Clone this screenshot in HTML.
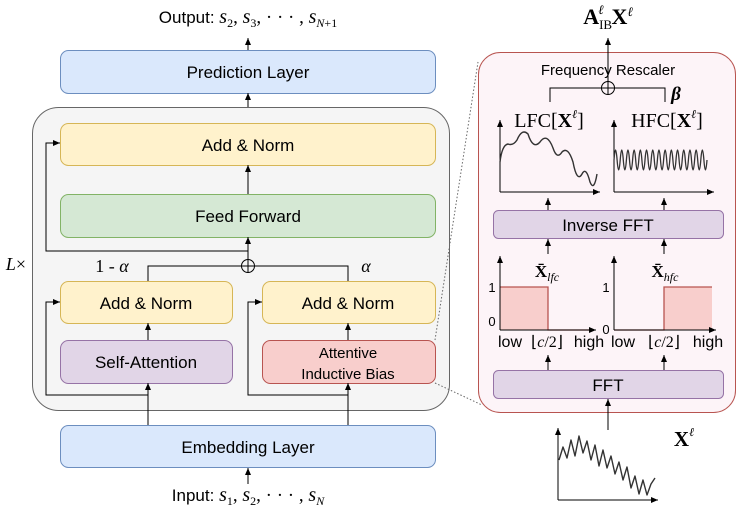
<!DOCTYPE html>
<html><head><meta charset="utf-8"><style>
body{margin:0;background:#fff}
svg text{font-family:"Liberation Sans",sans-serif}
.m{font-family:"Liberation Serif",serif}
</style></head><body>
<svg width="742" height="509" viewBox="0 0 742 509" xmlns="http://www.w3.org/2000/svg">
<defs><marker id="a" markerWidth="8" markerHeight="8" refX="7" refY="4" orient="auto" markerUnits="userSpaceOnUse"><path d="M0,1 L7,4 L0,7 Z" fill="#000"/></marker></defs>
<g font-size="17" text-anchor="middle" fill="#000">
<text x="248" y="23">Output: <tspan class="m" font-style="italic" font-size="20">s</tspan><tspan class="m" font-size="12" dy="4">2</tspan><tspan class="m" dy="-4" font-size="19">, </tspan><tspan class="m" font-style="italic" font-size="20">s</tspan><tspan class="m" font-size="12" dy="4">3</tspan><tspan class="m" dy="-4" font-size="19">, · · · , </tspan><tspan class="m" font-style="italic" font-size="20">s</tspan><tspan class="m" font-size="12" dy="4" font-style="italic">N</tspan><tspan class="m" font-size="12">+1</tspan></text>
<line x1="248" y1="50" x2="248" y2="38" stroke="#000" marker-end="url(#a)"/>
<rect x="60.5" y="50.5" width="375" height="43" rx="8" fill="#dae8fc" stroke="#6c8ebf"/>
<text x="248" y="78">Prediction Layer</text>
<line x1="248" y1="123" x2="248" y2="93" stroke="#000" marker-end="url(#a)"/>
<rect x="32.5" y="107.5" width="417" height="303" rx="26" fill="#f5f5f5" stroke="#666"/>
<rect x="60.5" y="123.5" width="375" height="42" rx="8" fill="#fff2cc" stroke="#d6b656"/>
<text x="248" y="151">Add &amp; Norm</text>
<line x1="248" y1="194" x2="248" y2="165" stroke="#000" marker-end="url(#a)"/>
<rect x="60.5" y="194.5" width="375" height="43" rx="8" fill="#d5e8d4" stroke="#82b366"/>
<text x="248" y="222">Feed Forward</text>
<polyline points="248,260 248,251 46,251 46,143 60,143" fill="none" stroke="#000" marker-end="url(#a)"/>
<line x1="248" y1="251" x2="248" y2="237" stroke="#000" marker-end="url(#a)"/>
<polyline points="148,281 148,266 348,266 348,281" fill="none" stroke="#000"/>
<circle cx="248" cy="266" r="6.5" fill="none" stroke="#000"/>
<line x1="241.5" y1="266" x2="254.5" y2="266" stroke="#000"/><line x1="248" y1="259.5" x2="248" y2="272.5" stroke="#000"/>
<text x="112" y="272" class="m" font-size="18">1 - <tspan font-style="italic">α</tspan></text>
<text x="366" y="272" class="m" font-size="18" font-style="italic">α</text>
<text x="16" y="270" class="m" font-size="18"><tspan font-style="italic">L</tspan>×</text>
<rect x="60.5" y="281.5" width="172" height="42" rx="8" fill="#fff2cc" stroke="#d6b656"/>
<text x="146" y="309">Add &amp; Norm</text>
<rect x="262.5" y="281.5" width="173" height="42" rx="8" fill="#fff2cc" stroke="#d6b656"/>
<text x="348" y="309">Add &amp; Norm</text>
<rect x="60.5" y="340.5" width="172" height="43" rx="8" fill="#e1d5e7" stroke="#9673a6"/>
<text x="146" y="368">Self-Attention</text>
<rect x="262.5" y="340.5" width="173" height="43" rx="8" fill="#f8cecc" stroke="#b85450"/>
<text x="348" y="358" font-size="15">Attentive</text>
<text x="348" y="379" font-size="15">Inductive Bias</text>
<line x1="148" y1="340" x2="148" y2="323" stroke="#000" marker-end="url(#a)"/>
<line x1="348" y1="340" x2="348" y2="323" stroke="#000" marker-end="url(#a)"/>
<line x1="148" y1="425" x2="148" y2="383" stroke="#000" marker-end="url(#a)"/>
<line x1="348" y1="425" x2="348" y2="383" stroke="#000" marker-end="url(#a)"/>
<polyline points="148,395 46,395 46,302 60,302" fill="none" stroke="#000" marker-end="url(#a)"/>
<polyline points="348,395 248,395 248,302 262,302" fill="none" stroke="#000" marker-end="url(#a)"/>
<rect x="60.5" y="425.5" width="375" height="42" rx="8" fill="#dae8fc" stroke="#6c8ebf"/>
<text x="248" y="453">Embedding Layer</text>
<line x1="248" y1="484" x2="248" y2="468" stroke="#000" marker-end="url(#a)"/>
<text x="248" y="501">Input: <tspan class="m" font-style="italic" font-size="20">s</tspan><tspan class="m" font-size="12" dy="4">1</tspan><tspan class="m" dy="-4" font-size="19">, </tspan><tspan class="m" font-style="italic" font-size="20">s</tspan><tspan class="m" font-size="12" dy="4">2</tspan><tspan class="m" dy="-4" font-size="19">, · · · , </tspan><tspan class="m" font-style="italic" font-size="20">s</tspan><tspan class="m" font-size="12" dy="4" font-style="italic">N</tspan></text>
<line x1="435" y1="340" x2="478" y2="62" stroke="#666" stroke-dasharray="1.5,2"/>
<line x1="435" y1="383" x2="482" y2="405" stroke="#666" stroke-dasharray="1.5,2"/>
<rect x="478.5" y="52.5" width="257" height="360" rx="22" fill="#fdf4f8" stroke="#b85450"/>
<text x="608" y="24" class="m" font-size="22" font-weight="bold">A<tspan font-size="13" font-weight="normal" dy="5">IB</tspan><tspan font-size="13" font-weight="normal" font-style="italic" dx="-14" dy="-15">ℓ</tspan><tspan dx="8" dy="10">X</tspan><tspan font-size="13" font-weight="normal" font-style="italic" dy="-8">ℓ</tspan></text>
<text x="608" y="75" font-size="15">Frequency  Rescaler</text>
<line x1="608" y1="88" x2="608" y2="38" stroke="#000" marker-end="url(#a)"/>
<polyline points="550,102 550,88 665,88 665,102" fill="none" stroke="#000"/>
<circle cx="608" cy="88" r="6.5" fill="#fdf4f8" stroke="#000"/>
<line x1="601.5" y1="88" x2="614.5" y2="88" stroke="#000"/><line x1="608" y1="81.5" x2="608" y2="94.5" stroke="#000"/>
<text x="676" y="100" class="m" font-size="19" font-weight="bold" font-style="italic">β</text>
<text x="549" y="127" class="m" font-size="20">LFC[<tspan font-weight="bold">X</tspan><tspan font-size="12" font-style="italic" dy="-9">ℓ</tspan><tspan dy="9">]</tspan></text>
<text x="667" y="127" class="m" font-size="20">HFC[<tspan font-weight="bold">X</tspan><tspan font-size="12" font-style="italic" dy="-9">ℓ</tspan><tspan dy="9">]</tspan></text>
<g fill="none" stroke="#000">
<line x1="500" y1="192" x2="600" y2="192" marker-end="url(#a)"/>
<line x1="500" y1="192" x2="500" y2="120" marker-end="url(#a)"/>
<line x1="614" y1="192" x2="714" y2="192" marker-end="url(#a)"/>
<line x1="614" y1="192" x2="614" y2="120" marker-end="url(#a)"/>
<path d="M500,162 Q502,145 508,144 Q513,146 517,140 Q522,128 528,134 Q533,150 540,142 Q547,132 553,148 Q557,160 562,152 Q568,146 573,162 Q577,183 582,174 Q586,166 590,182 Q594,192 597,174" stroke="#333" stroke-width="1.4"/>
<path d="M614,160 q1.55,-20 3.1,0 t3.1,0 t3.1,0 t3.1,0 t3.1,0 t3.1,0 t3.1,0 t3.1,0 t3.1,0 t3.1,0 t3.1,0 t3.1,0 t3.1,0 t3.1,0 t3.1,0 t3.1,0 t3.1,0 t3.1,0 t3.1,0 t3.1,0 t3.1,0 t3.1,0 t3.1,0 t3.1,0 t3.1,0 t3.1,0 t3.1,0 t3.1,0 t3.1,0 t3.1,0" stroke="#333" stroke-width="1.3"/>
</g>
<line x1="548" y1="210" x2="548" y2="198" stroke="#000" marker-end="url(#a)"/>
<line x1="664" y1="210" x2="664" y2="198" stroke="#000" marker-end="url(#a)"/>
<rect x="493.5" y="210.5" width="230" height="28" rx="5" fill="#e1d5e7" stroke="#9673a6"/>
<text x="608" y="231">Inverse FFT</text>
<line x1="548" y1="254" x2="548" y2="239" stroke="#000" marker-end="url(#a)"/>
<line x1="664" y1="254" x2="664" y2="239" stroke="#000" marker-end="url(#a)"/>
<rect x="500" y="287" width="48" height="43" fill="#f8cecc"/>
<polyline points="500,287 548,287 548,330 590,330" fill="none" stroke="#b85450" stroke-width="1.3"/>
<rect x="664" y="287" width="48" height="43" fill="#f8cecc"/>
<polyline points="614,330 664,330 664,287 712,287" fill="none" stroke="#b85450" stroke-width="1.3"/>
<g fill="none" stroke="#000">
<line x1="500" y1="330" x2="596" y2="330" marker-end="url(#a)"/>
<line x1="500" y1="330" x2="500" y2="256" marker-end="url(#a)"/>
<line x1="614" y1="330" x2="716" y2="330" marker-end="url(#a)"/>
<line x1="614" y1="330" x2="614" y2="256" marker-end="url(#a)"/>
</g>
<text x="492" y="292" font-size="13">1</text><text x="492" y="326" font-size="13">0</text>
<text x="606" y="292" font-size="13">1</text><text x="606" y="334" font-size="13">0</text>
<text x="547" y="277" class="m" font-size="17" font-weight="bold">X̄<tspan font-size="12" font-weight="normal" font-style="italic" dy="4">lfc</tspan></text>
<text x="665" y="277" class="m" font-size="17" font-weight="bold">X̄<tspan font-size="12" font-weight="normal" font-style="italic" dy="4">hfc</tspan></text>
<text x="510" y="347" font-size="16">low</text><text x="547" y="347" class="m" font-size="16">⌊<tspan font-style="italic">c</tspan>/2⌋</text><text x="589" y="347" font-size="16">high</text>
<text x="623" y="347" font-size="16">low</text><text x="664" y="347" class="m" font-size="16">⌊<tspan font-style="italic">c</tspan>/2⌋</text><text x="708" y="347" font-size="16">high</text>
<line x1="548" y1="370" x2="548" y2="355" stroke="#000" marker-end="url(#a)"/>
<line x1="664" y1="370" x2="664" y2="355" stroke="#000" marker-end="url(#a)"/>
<rect x="493.5" y="370.5" width="230" height="28" rx="5" fill="#e1d5e7" stroke="#9673a6"/>
<text x="608" y="391">FFT</text>
<line x1="608" y1="430" x2="608" y2="399" stroke="#000" marker-end="url(#a)"/>
<g fill="none" stroke="#000">
<line x1="558" y1="500" x2="658" y2="500" marker-end="url(#a)"/>
<line x1="558" y1="500" x2="558" y2="428" marker-end="url(#a)"/>
<polyline stroke="#333" stroke-width="1.4" stroke-linejoin="round" points="559,460 563,447 567,458 571,440 575,456 579,436 583,453 587,441 591,460 595,445 599,466 603,450 607,468 611,456 615,474 619,462 623,480 627,467 631,488 635,476 639,494 643,480 647,495 651,484 655,478"/>
</g>
<text x="684" y="446" class="m" font-size="21" font-weight="bold">X<tspan font-size="12" font-weight="normal" font-style="italic" dy="-10">ℓ</tspan></text>
</g>
</svg>
</body></html>
